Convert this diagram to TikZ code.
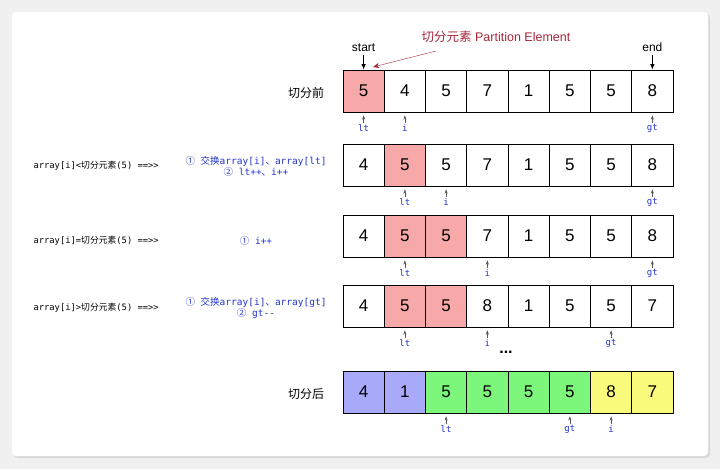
\documentclass[tikz,border=0pt]{standalone}
\usepackage{fontspec}
\setmainfont{Liberation Sans}
\setmonofont{DejaVu Sans Mono}
\newfontfamily\cjk{Noto Sans CJK SC}
\usetikzlibrary{arrows.meta,positioning}
\definecolor{pivotred}{HTML}{F7A8A8}
\definecolor{lowblue}{HTML}{A9A9FA}
\definecolor{midgreen}{HTML}{7CF77C}
\definecolor{highyellow}{HTML}{FAFA7C}
\definecolor{ptrblue}{HTML}{2233CC}
\definecolor{notered}{HTML}{A8283C}
\tikzset{%
  >={Latex[width=1.6mm,length=2mm]},
  % Specifications for style of nodes:
        cell/.style = {rectangle, draw=black, semithick, minimum width=41.25pt,
                       minimum height=42pt, inner sep=0pt, font=\fontsize{17}{19}\selectfont},
         ptr/.style = {font=\ttfamily\fontsize{9}{10}\selectfont, text=ptrblue, inner sep=1pt},
     ptrline/.style = {->, >={Stealth[width=1mm,length=1.5mm]}, gray!70!black, thin},
        rule/.style = {font=\ttfamily\fontsize{8.8}{10}\selectfont, anchor=west},
      action/.style = {font=\ttfamily\fontsize{9.5}{11}\selectfont, text=ptrblue, align=center},
    rowlabel/.style = {font=\cjk\fontsize{12}{14}\selectfont}
}
\begin{document}
\begin{tikzpicture}[x=1pt, y=-1pt]
  \useasboundingbox (0,0) rectangle (720,469);
  \fill[gray!12] (0,0) rectangle (720,469);
  \fill[gray!30, rounded corners=4pt] (14,14) rectangle (710,458);
  \fill[white, rounded corners=4pt] (12,12) rectangle (708,456);
  % Rows of cells
  \foreach \r/\y/\vals in {1/91/{5,4,5,7,1,5,5,8}, 2/165/{4,5,5,7,1,5,5,8},
      3/236/{4,5,5,7,1,5,5,8}, 4/306/{4,5,5,8,1,5,5,7}, 5/392/{4,1,5,5,5,5,8,7}} {
    \foreach \v [count=\k from 0] in \vals {
      \node (c\r-\k) [cell] at ({363.6+41.25*\k},\y) {\v};
    }
  }
  % Colours of the cells
  \foreach \r/\k/\c in {1/0/pivotred, 2/1/pivotred, 3/1/pivotred, 3/2/pivotred,
      4/1/pivotred, 4/2/pivotred, 5/0/lowblue, 5/1/lowblue, 5/2/midgreen, 5/3/midgreen,
      5/4/midgreen, 5/5/midgreen, 5/6/highyellow, 5/7/highyellow} {
    \node [cell, fill=\c] at (c\r-\k) {\pgfmathparse{{"4","1","5","5","5","5","8","7"}[\k]}%
      \ifnum\r=5 \pgfmathresult\else 5\fi};
  }
  % Pointers under the cells
  \foreach \r/\k/\p in {1/0/lt, 1/1/i, 1/7/gt, 2/1/lt, 2/2/i, 2/7/gt, 3/1/lt, 3/3/i, 3/7/gt,
      4/1/lt, 4/3/i, 4/6/gt, 5/2/lt, 5/5/gt, 5/6/i} {
    \node (p\r-\k) [ptr, below=11pt of c\r-\k] {\p};
    \draw[ptrline] (p\r-\k.north) -- ([yshift=-3pt]c\r-\k.south);
  }
  % Start, end and the partition element
  \node (start) [above=15pt of c1-0, font=\fontsize{12}{14}\selectfont] {start};
  \node (end) [above=15pt of c1-7, font=\fontsize{12}{14}\selectfont] {end};
  \draw[->, thick] (start) -- (c1-0);
  \draw[->, thick] (end) -- (c1-7);
  \node (pivot) [text=notered, font=\fontsize{12.5}{14}\selectfont] at (496,37)
    {{\cjk 切分元素} Partition Element};
  \draw[->, notered, >={Stealth[width=1.8mm,length=2.2mm]}] (436,51) -- (373,67);
  % Row labels
  \node (before) [rowlabel] at (306,93) {切分前};
  \node (after) [rowlabel] at (306,394) {切分后};
  % Rules and actions
  \node (rule1) [rule] at (30,166) {array[i]<{\cjk 切分元素}(5) ==>>};
  \node (rule2) [rule] at (30,241) {array[i]={\cjk 切分元素}(5) ==>>};
  \node (rule3) [rule] at (30,308) {array[i]>{\cjk 切分元素}(5) ==>>};
  \node (act1) [action] at (256,166) {{\cjk ①} {\cjk 交换}array[i]{\cjk 、}array[lt]\\{\cjk ②} lt++{\cjk 、}i++};
  \node (act2) [action] at (256,241) {{\cjk ①} i++};
  \node (act3) [action] at (256,308) {{\cjk ①} {\cjk 交换}array[i]{\cjk 、}array[gt]\\{\cjk ②} gt{-}{-}};
  \node (dots) [font=\bfseries\fontsize{16}{16}\selectfont] at (506,352) {...};
\end{tikzpicture}
\end{document}
